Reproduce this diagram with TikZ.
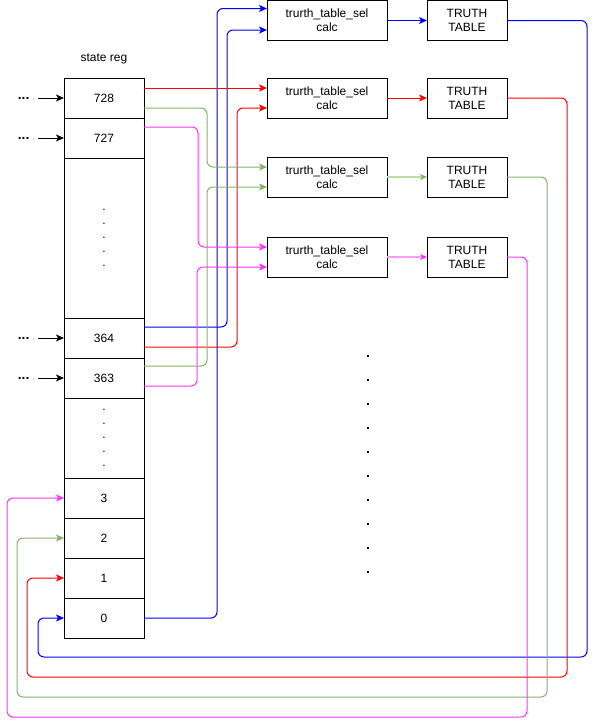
\documentclass[tikz,border=0pt]{standalone}
\usepackage{fontspec}
\setmainfont{Liberation Sans}
\usetikzlibrary{arrows.meta,positioning}
\definecolor{lblue}{HTML}{0000FF}
\definecolor{lred}{HTML}{FF0000}
\definecolor{lgreen}{HTML}{82B366}
\definecolor{lgreenpale}{HTML}{B9E0A5}
\definecolor{lpink}{HTML}{FF33FF}
\definecolor{lpinkpale}{HTML}{FF99FF}

\begin{document}
\begin{tikzpicture}[x=1pt,y=-1pt,node distance=0pt,line width=1pt,
    font=\fontsize{12}{14}\selectfont,
    >={Stealth[length=8pt,width=7pt,inset=2pt]}]
  \useasboundingbox (0,0) rectangle (596,726);
  % state register
  \begin{scope}[every node/.style={draw,outer sep=0pt,inner sep=0pt,
      minimum width=80pt,minimum height=40pt,align=center}]
    \node (r728) at (104,98) {728};
    \node (r727) [below=of r728] {727};
    \node (gapA) [below=of r727,minimum height=160pt] {.\\.\\.\\.\\.};
    \node (r364) [below=of gapA] {364};
    \node (r363) [below=of r364] {363};
    \node (gapB) [below=of r363,minimum height=80pt] {.\\.\\.\\.\\.};
    \node (r3) [below=of gapB] {3};
    \node (r2) [below=of r3] {2};
    \node (r1) [below=of r2] {1};
    \node (r0) [below=of r1] {0};
  \end{scope}
  \node (title) [above=10pt of r728] {state reg};
  % inputs
  \begin{scope}[every node/.style={inner sep=0pt,font=\fontsize{14}{14}\selectfont\bfseries}]
    \node (d728) [left=34pt of r728] {...};
    \node (d727) [left=34pt of r727] {...};
    \node (d364) [left=34pt of r364] {...};
    \node (d363) [left=34pt of r363] {...};
  \end{scope}
  \begin{scope}[every edge/.style={draw,->,shorten <=8pt}]
    \path (d728) edge (r728);
    \path (d727) edge (r727);
    \path (d364) edge (r364);
    \path (d363) edge (r363);
  \end{scope}
  % selectors and tables
  \begin{scope}[every node/.style={draw,outer sep=0pt,inner sep=0pt,
      minimum height=40pt,align=center}]
    \node (sel1) [minimum width=120pt] at (327,20.5) {trurth\_table\_sel\\calc};
    \node (sel2) [minimum width=120pt] at (327,98) {trurth\_table\_sel\\calc};
    \node (sel3) [minimum width=120pt] at (327,177) {trurth\_table\_sel\\calc};
    \node (sel4) [minimum width=120pt] at (327,257) {trurth\_table\_sel\\calc};
    \node (tt1) [minimum width=80pt,right=40pt of sel1] {TRUTH\\TABLE};
    \node (tt2) [minimum width=80pt,right=40pt of sel2] {TRUTH\\TABLE};
    \node (tt3) [minimum width=80pt,right=40pt of sel3] {TRUTH\\TABLE};
    \node (tt4) [minimum width=80pt,right=40pt of sel4] {TRUTH\\TABLE};
  \end{scope}
  \node (more) [font=\fontsize{14}{24}\selectfont\bfseries,align=center]
    at (368,464) {.\\.\\.\\.\\.\\.\\.\\.\\.\\.};
  % into the selectors
  \begin{scope}[rounded corners=6pt]
    \draw[lblue,->] (r0.east) -- ++(73,0) |- ([yshift=12pt]sel1.west);
    \draw[lblue,->] ([yshift=11pt]r364.east) -- ++(83,0) |- ([yshift=-9.5pt]sel1.west);
    \draw[lred,->] ([yshift=10pt]r728.east) -- ([yshift=10pt]sel2.west);
    \draw[lred,->] ([yshift=-9pt]r364.east) -- ++(93,0) |- ([yshift=-10pt]sel2.west);
    \draw[lgreen,->] ([yshift=-10pt]r728.east) -- ++(63,0) |- ([yshift=10pt]sel3.west);
    \draw[lgreen,->] ([yshift=12pt]r363.east) -- ++(63,0) |- ([yshift=-10pt]sel3.west);
    \draw[lpink,->] ([yshift=11pt]r727.east) -- ++(54,0) |- ([yshift=10pt]sel4.west);
    \draw[lpink,->] ([yshift=-8pt]r363.east) -- ++(53,0) |- ([yshift=-10pt]sel4.west);
  \end{scope}
  % selector to table
  \draw[lblue,->] (sel1) -- (tt1);
  \draw[lred,->] (sel2) -- (tt2);
  \draw[lgreenpale,line width=1.6pt,-{Stealth[length=7pt,width=6pt,inset=2pt,color=lgreen]}] (sel3) -- (tt3);
  \draw[lpinkpale,line width=1.6pt,-{Stealth[length=7pt,width=6pt,inset=2pt,color=lpink]}] (sel4) -- (tt4);
  % back to the register
  \begin{scope}[rounded corners=6pt]
    \draw[lblue,->] (tt1.east) -- ++(80,0) -- ++(0,636.5) -| ([xshift=-26pt]r0.west) -- (r0.west);
    \draw[lred,->] (tt2.east) -- ++(60,0) -- ++(0,579) -| ([xshift=-37pt]r1.west) -- (r1.west);
    \draw[lgreen,->] (tt3.east) -- ++(40,0) -- ++(0,520) -| ([xshift=-47pt]r2.west) -- (r2.west);
    \draw[lpink,->] (tt4.east) -- ++(20,0) -- ++(0,460) -| ([xshift=-57pt]r3.west) -- (r3.west);
  \end{scope}
\end{tikzpicture}
\end{document}
